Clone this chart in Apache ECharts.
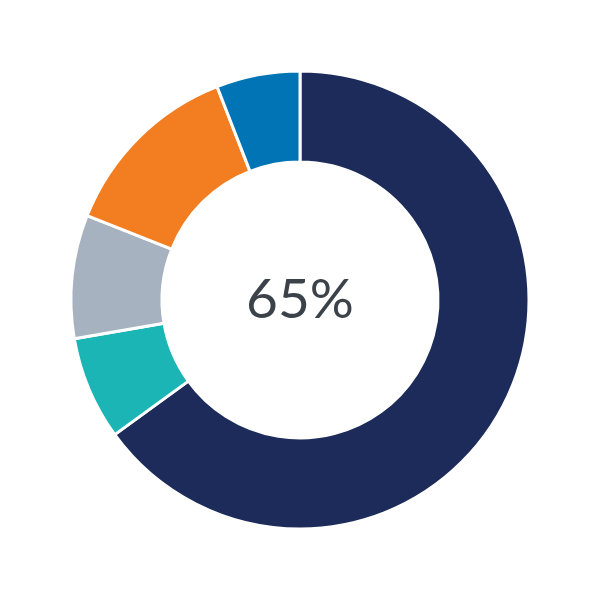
<!DOCTYPE html>
<html><head><meta charset="utf-8">
<script src="https://cdn.jsdelivr.net/npm/echarts@6/dist/echarts.min.js"></script>
<style>html,body{margin:0;padding:0;background:#fff}#c{width:600px;height:600px}</style>
</head><body><div id="c"></div>
<script>
const categories = ['A', 'B', 'C', 'D', 'E'];
const values = [65, 7.3, 8.7, 13.1, 5.9];
const colors = ['#1c2b59', '#1bb5b6', '#a7b2c1', '#f27e21', '#0074b5'];
const centerLabel = '65%';

const chart = echarts.init(document.getElementById('c'));
chart.setOption({
  animation: false,
  graphic: [{
    type: 'text', left: 'center', top: 'middle',
    style: { text: centerLabel, font: '400 55px Lato', fill: '#3b4249', textAlign: 'center' }
  }],
  series: [{
    type: 'pie',
    center: [300, 300],
    radius: [138, 229],
    startAngle: 90,
    clockwise: true,
    label: { show: false },
    labelLine: { show: false },
    itemStyle: { borderColor: '#fff', borderWidth: 3 },
    data: categories.map((n, i) => ({ name: n, value: values[i], itemStyle: { color: colors[i] } }))
  }]
});
</script></body></html>
